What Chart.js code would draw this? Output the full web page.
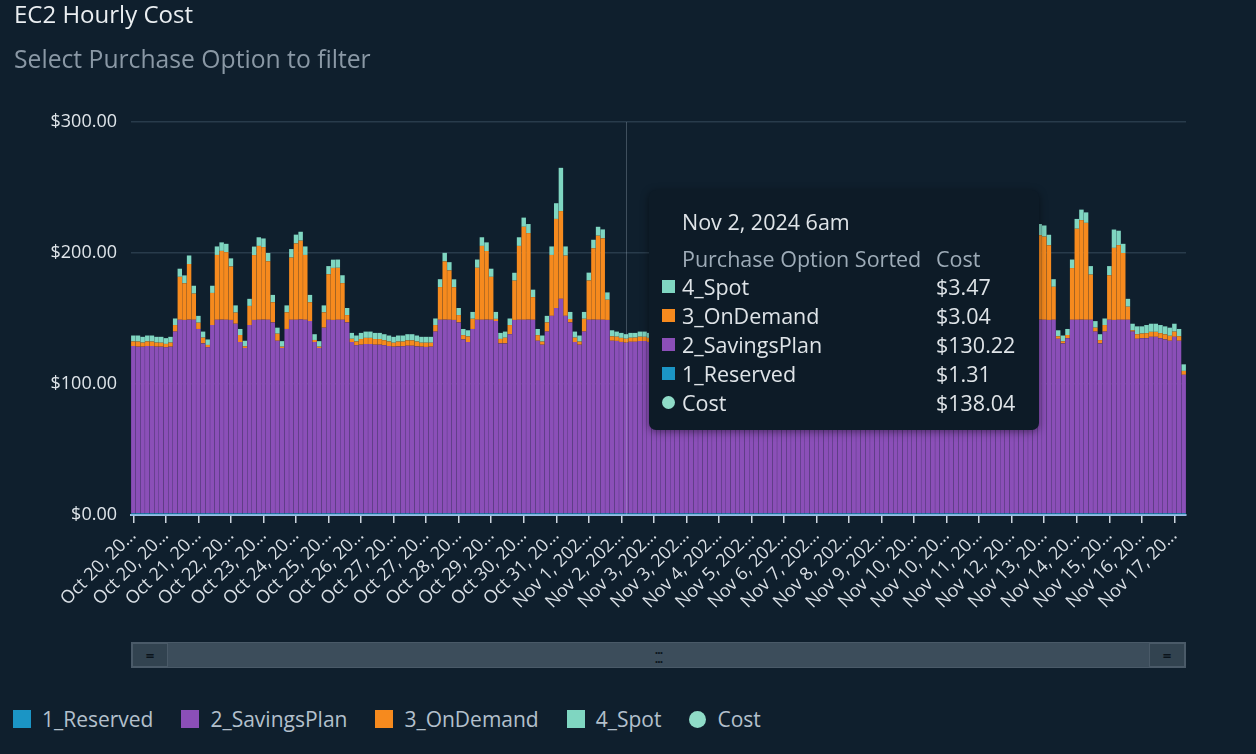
<!DOCTYPE html>
<html>
<head>
<meta charset="utf-8">
<title>EC2 Hourly Cost</title>
<script src="https://cdn.jsdelivr.net/npm/chart.js@4.4.1/dist/chart.umd.min.js"></script>
<style>
  html, body { margin: 0; padding: 0; width: 1256px; height: 754px; overflow: hidden; background: #0f1f2d; font-family: "Open Sans", sans-serif; }
  #title { position: absolute; left: 14px; top: 0; font-size: 24px; line-height: 28px; color: #eaeef1; font-weight: 500; }
  #subtitle { position: absolute; left: 14px; top: 45px; font-size: 24.7px; line-height: 28px; color: #8a98a5; }
  #chartBox { position: absolute; left: 0; top: 0; width: 1256px; height: 640px; }
  #tip { position: absolute; display: none; width: 390px; box-sizing: border-box; padding: 18px 0 13px 0; background: #0d1b27; border-radius: 7px; box-shadow: 0 2px 8px rgba(0,0,0,0.45); color: #dfe4e8; font-size: 21.5px; }
  #tip .ttl { padding-left: 33px; line-height: 28px; margin-bottom: 8px; }
  #tip .row { display: flex; align-items: center; height: 29px; }
  #tip .head { height: 28px; color: #9eacb8; }
  #tip .sw { width: 13px; height: 13px; margin-left: 13px; margin-right: 7px; flex: none; }
  #tip .dot { border-radius: 50%; }
  #tip .lab { width: 254px; flex: none; white-space: nowrap; }
  #slider { position: absolute; left: 131px; top: 642px; width: 1055px; height: 26px; box-sizing: border-box; background: #3c4d5b; border: 1px solid #4a5a68; }
  #slider .handle { position: absolute; top: 0; width: 36px; height: 24px; background: #324350; border: 1px solid #4a5a68; box-sizing: border-box; color: #0b141c; font-size: 15px; font-weight: bold; line-height: 22px; text-align: center; }
  #slider .grip { position: absolute; left: 50%; top: 2px; transform: translateX(-50%); color: #0b141c; font-size: 12px; letter-spacing: -1px; line-height: 9px; font-weight: bold; text-align: center; }
  #legend { position: absolute; left: 13px; top: 706px; display: flex; align-items: center; height: 26px; font-size: 21px; color: #b3c0cc; }
  #legend .item { display: flex; align-items: center; margin-right: 28px; }
  #legend .box { width: 18px; height: 18px; margin-right: 11px; }
  #legend .dot { width: 17px; height: 17px; border-radius: 50%; margin-right: 11px; }
</style>
</head>
<body>
<div id="chartBox"><canvas id="chartArea" width="1256" height="640"></canvas></div>
<div id="title">EC2 Hourly Cost</div>
<div id="subtitle">Select Purchase Option to filter</div>
<div id="tip"></div>
<div id="slider">
  <div class="handle" style="left:0">=</div>
  <div class="grip">...<br>...</div>
  <div class="handle" style="right:0">=</div>
</div>
<div id="legend"></div>
<script>
Chart.defaults.font.family = '"Open Sans", sans-serif';

// one entry per day, 8 buckets of 3 hours per day
const days = ['Oct 20','Oct 21','Oct 22','Oct 23','Oct 24','Oct 25','Oct 26','Oct 27','Oct 28','Oct 29',
              'Oct 30','Oct 31','Nov 1','Nov 2','Nov 3','Nov 4','Nov 5','Nov 6','Nov 7','Nov 8',
              'Nov 9','Nov 10','Nov 11','Nov 12','Nov 13','Nov 14','Nov 15','Nov 16','Nov 17'];
const hours = ['12am','3am','6am','9am','12pm','3pm','6pm','9pm'];

const seriesNames = ['1_Reserved', '2_SavingsPlan', '3_OnDemand', '4_Spot'];
const seriesColors = ['#1b95c5', '#8b4fb8', '#f68a1e', '#7fd6c1'];
const costColor = '#8fdcc8';
const yTicks = [0, 100, 200, 300];
const hoverLabel = 'Nov 2, 2024 6am';

const reserved = [
  1.31,1.31,1.31,1.31,1.31,1.31,1.31,1.31,
  1.31,1.31,1.31,1.31,1.31,1.31,1.31,1.31,
  1.31,1.31,1.31,1.31,1.31,1.31,1.31,1.31,
  1.31,1.31,1.31,1.31,1.31,1.31,1.31,1.31,
  1.31,1.31,1.31,1.31,1.31,1.31,1.31,1.31,
  1.31,1.31,1.31,1.31,1.31,1.31,1.31,1.31,
  1.31,1.31,1.31,1.31,1.31,1.31,1.31,1.31,
  1.31,1.31,1.31,1.31,1.31,1.31,1.31,1.31,
  1.31,1.31,1.31,1.31,1.31,1.31,1.31,1.31,
  1.31,1.31,1.31,1.31,1.31,1.31,1.31,1.31,
  1.31,1.31,1.31,1.31,1.31,1.31,1.31,1.31,
  1.31,1.31,1.31,1.31,1.31,1.31,1.31,1.31,
  1.31,1.31,1.31,1.31,1.31,1.31,1.31,1.31,
  1.31,1.31,1.31,1.31,1.31,1.31,1.31,1.31,
  1.31,1.31,1.31,1.31,1.31,1.31,1.31,1.31,
  1.31,1.31,1.31,1.31,1.31,1.31,1.31,1.31,
  1.31,1.31,1.31,1.31,1.31,1.31,1.31,1.31,
  1.31,1.31,1.31,1.31,1.31,1.31,1.31,1.31,
  1.31,1.31,1.31,1.31,1.31,1.31,1.31,1.31,
  1.31,1.31,1.31,1.31,1.31,1.31,1.31,1.31,
  1.31,1.31,1.31,1.31,1.31,1.31,1.31,1.31,
  1.31,1.31,1.31,1.31,1.31,1.31,1.31,1.31,
  1.31,1.31,1.31,1.31,1.31,1.31,1.31,1.31,
  1.31,1.31,1.31,1.31,1.31,1.31,1.31,1.31,
  1.31,1.31,1.31,1.31,1.31,1.31,1.31,1.31,
  1.31,1.31,1.31,1.31,1.31,1.31,1.31,1.31,
  1.31,1.31,1.31,1.31,1.31,1.31,1.31,1.31,
  1.31,1.31,1.31,1.31,1.31,1.31,1.31,1.31,
  1.31,1.31,1.31
];

const savingsPlan = [
  127.7,127.2,127.2,127.7,127.7,127.2,127.2,126.7,
  127.2,138.7,147.7,147.6,147.8,147.7,140.7,129.7,
  126.7,143.7,147.7,147.8,147.7,147.6,144.7,130.7,
  126.2,143.7,147.6,147.7,147.8,147.7,145.7,131.7,
  126.2,140.7,147.7,147.7,147.9,147.7,146.7,130.7,
  126.2,141.7,147.7,147.6,147.7,147.7,145.7,130.7,
  128.2,128.7,129.2,129.2,128.7,128.7,128.2,127.7,
  127.2,127.4,127.5,127.9,127.9,127.4,127.2,127.0,
  127.2,138.7,147.7,147.8,147.7,147.6,145.7,132.7,
  130.7,140.7,147.7,147.7,147.8,147.7,146.7,129.7,
  129.7,136.7,147.6,147.7,147.7,147.8,147.7,131.7,
  128.7,138.7,150.7,156.7,163.7,150.7,145.7,130.7,
  128.7,138.7,147.7,147.8,147.7,147.7,147.6,131.7,
  131.6,130.8,130.22,130.9,130.9,131.5,131.5,130.8,
  130.5,130.2,130.0,129.8,129.8,129.8,129.6,129.6,
  130.2,140.7,147.7,147.7,147.7,147.7,147.7,132.7,
  131.0,141.7,147.7,147.7,147.7,147.7,147.7,133.2,
  131.0,141.7,147.7,147.7,147.7,147.7,147.7,133.2,
  131.0,141.7,147.7,147.7,147.7,147.7,147.7,132.7,
  131.0,140.7,147.7,147.7,147.7,147.7,147.7,132.0,
  130.0,129.5,129.5,130.0,130.0,129.5,129.5,129.5,
  129.5,129.5,129.0,129.5,129.5,129.5,129.0,129.0,
  129.5,139.7,147.7,147.7,147.7,147.7,147.7,132.2,
  131.0,141.7,147.7,147.7,147.7,147.7,147.7,132.7,
  131.7,140.7,147.7,147.8,147.7,147.6,147.7,133.2,
  129.7,133.7,147.7,147.7,147.8,147.7,147.7,138.7,
  129.7,138.7,147.7,147.6,147.7,147.7,147.7,138.7,
  133.2,133.7,133.7,134.7,134.7,133.7,132.7,131.7,
  134.7,131.7,105.7
];

const onDemand = [
  3.5,3.9,3.1,3.5,3.4,3.1,3.0,2.6,
  3.1,5.0,32.8,28.0,42.5,20.0,4.8,4.4,
  1.8,24.5,49.5,52.5,51.6,40.8,8.5,5.4,
  1.3,14.6,49.5,56.4,55.4,44.7,15.4,5.4,
  1.0,12.7,47.5,58.3,60.2,49.5,14.4,1.6,
  1.0,11.7,34.8,39.7,39.7,28.0,5.6,2.5,
  3.0,4.3,4.7,4.7,4.3,4.3,3.9,3.5,
  3.0,3.7,3.6,4.1,4.1,3.7,3.0,3.2,
  3.0,5.0,25.0,44.5,37.7,25.0,5.6,3.3,
  4.3,7.8,39.7,56.4,52.4,32.8,1.7,3.4,
  4.3,7.0,30.0,56.4,71.0,66.1,17.3,4.3,
  2.4,7.0,46.5,68.0,67.0,46.0,2.6,3.4,
  2.4,9.8,30.0,54.5,64.2,62.2,15.4,3.4,
  3.2,3.1,3.04,3.1,3.2,3.3,3.2,3.1,
  3.0,3.0,2.9,2.9,2.9,2.9,2.8,2.8,
  2.8,5.0,35.0,50.0,47.0,35.5,6.0,3.0,
  3.2,10.0,44.5,56.5,54.5,40.0,7.8,3.5,
  3.2,12.0,49.5,62.0,58.5,43.0,10.8,3.5,
  3.2,10.0,46.5,58.3,55.5,41.0,9.0,3.0,
  3.2,8.0,35.0,44.7,42.8,30.5,4.0,2.7,
  2.9,2.8,2.8,2.9,2.9,2.8,2.8,2.8,
  2.8,2.8,2.7,2.8,2.8,2.8,2.7,2.7,
  2.8,4.0,33.0,48.0,45.0,33.5,4.0,2.8,
  3.2,9.0,42.5,54.5,52.5,39.5,7.8,3.0,
  2.5,17.8,54.5,64.5,63.5,57.0,25.2,1.9,
  1.6,2.4,39.5,69.5,76.0,74.0,34.5,3.0,
  2.5,5.0,34.0,55.0,57.0,51.0,10.0,1.0,
  3.5,3.5,3.8,3.8,3.8,3.8,3.9,3.8,
  4.0,3.5,3.0
];

const spot = [
  4.5,4.6,4.4,4.5,4.6,4.4,4.5,4.4,
  4.4,5.0,6.2,6.0,6.5,6.0,5.2,4.6,
  4.2,5.5,6.5,6.5,6.4,6.2,5.5,4.6,
  4.2,5.4,6.5,6.6,6.6,6.3,5.6,4.6,
  4.2,5.3,6.5,6.7,6.8,6.5,5.6,4.4,
  4.2,5.3,6.2,6.3,6.3,6.0,5.4,4.5,
  4.5,4.7,4.8,4.8,4.7,4.7,4.6,4.5,
  4.5,4.6,4.6,4.7,4.7,4.6,4.5,4.5,
  4.5,5.0,6.0,6.5,6.3,6.0,5.4,4.7,
  4.7,5.2,6.3,6.6,6.6,6.2,5.3,4.6,
  4.7,5.0,6.0,6.6,7.0,6.9,5.7,4.7,
  4.6,5.0,6.5,12.0,33.0,7.0,5.4,4.6,
  4.6,5.2,6.0,6.5,6.8,6.8,5.6,4.6,
  3.9,3.8,3.47,3.7,3.6,3.9,4.0,3.8,
  3.8,3.7,3.7,3.6,3.6,3.6,3.6,3.6,
  3.7,5.0,6.0,6.3,6.0,5.5,5.0,4.0,
  4.0,5.0,6.5,6.5,6.5,6.0,5.2,4.0,
  4.0,5.0,6.5,7.0,6.5,6.0,5.2,4.0,
  4.0,5.0,6.5,6.7,6.5,6.0,5.0,4.0,
  4.0,5.0,6.0,6.3,6.2,5.5,5.0,4.0,
  3.8,3.7,3.7,3.8,3.8,3.7,3.7,3.7,
  3.7,3.7,3.6,3.7,3.7,3.7,3.6,3.6,
  3.7,5.0,6.0,6.0,6.0,5.5,5.0,3.7,
  4.0,5.0,6.5,6.5,6.5,5.5,5.2,4.0,
  4.5,5.2,6.5,8.5,8.5,8.0,5.8,4.6,
  4.4,4.6,6.5,7.5,8.0,8.0,6.5,5.0,
  4.5,5.0,7.0,14.0,11.0,7.0,6.0,5.0,
  6.0,5.5,6.2,6.2,6.2,6.2,6.1,6.2,
  6.0,5.5,5.0
];

const seriesData = [reserved, savingsPlan, onDemand, spot];

const labels = [];
days.forEach(d => hours.forEach(h => labels.push(d + ', 2024 ' + h)));
labels.length = savingsPlan.length;

function money(v) {
    return '$' + v.toFixed(2);
}

// html tooltip, QuickSight style two columns
function drawTip(context) {
    const t = context.tooltip;
    const box = document.getElementById('tip');
    if (t.opacity === 0 || !t.dataPoints) { box.style.display = 'none'; return; }
    let total = 0;
    let html = '<div class="ttl">' + t.title[0] + '</div>';
    html += '<div class="row head"><span class="sw"></span><span class="lab">Purchase Option Sorted</span><span>Cost</span></div>';
    t.dataPoints.forEach(p => {
        total += p.raw;
        html += '<div class="row"><span class="sw" style="background:' + p.dataset.backgroundColor + '"></span>'
              + '<span class="lab">' + p.dataset.label + '</span><span>' + money(p.raw) + '</span></div>';
    });
    html += '<div class="row"><span class="sw dot" style="background:' + costColor + '"></span>'
          + '<span class="lab">Cost</span><span>' + money(total) + '</span></div>';
    box.innerHTML = html;
    box.style.display = 'block';
    box.style.left = (context.chart.canvas.offsetLeft + t.caretX + 23) + 'px';
    box.style.top = (context.chart.chartArea.top + 68) + 'px';
}

// vertical hover line
const crosshair = {
    id: 'crosshair',
    afterDatasetsDraw(chart) {
        const act = chart.tooltip ? chart.tooltip.getActiveElements() : [];
        if (!act.length) return;
        const x = Math.round(act[0].element.x) + 0.5;
        const c = chart.ctx;
        c.save();
        c.strokeStyle = 'rgba(190,205,220,0.28)';
        c.lineWidth = 1;
        c.beginPath();
        c.moveTo(x, chart.chartArea.top);
        c.lineTo(x, chart.chartArea.bottom);
        c.stroke();
        c.restore();
    }
};

const canvas = document.getElementById('chartArea');
const chartJs = new Chart(canvas, {
    type: 'bar',
    data: {
        labels: labels,
        datasets: seriesNames.map((name, i) => ({
            label: name,
            data: seriesData[i],
            backgroundColor: seriesColors[i],
            borderWidth: 0,
            barPercentage: 1,
            categoryPercentage: 0.96
        }))
    },
    options: {
        responsive: false,
        animation: false,
        layout: { padding: { top: 122, right: 70, left: 0, bottom: 0 } },
        plugins: {
            legend: { display: false },
            tooltip: {
                enabled: false,
                mode: 'index',
                intersect: false,
                itemSort: (a, b) => b.datasetIndex - a.datasetIndex,
                external: drawTip
            }
        },
        scales: {
            x: {
                stacked: true,
                afterFit: scale => { scale.height = 125; },
                afterBuildTicks: scale => { scale.ticks = scale.ticks.filter(t => t.value % 7 === 0); },
                border: { display: true, color: '#9cbde3', width: 2 },
                grid: { offset: false, drawOnChartArea: false, drawTicks: true, tickLength: 8, color: '#cdd6df', lineWidth: 1.5 },
                ticks: {
                    autoSkip: false,
                    minRotation: 45,
                    maxRotation: 45,
                    padding: 2,
                    color: '#d9dfe5',
                    font: { size: 18 },
                    callback: function (value) {
                        return this.getLabelForValue(value).slice(0, 10) + '…';
                    }
                }
            },
            y: {
                stacked: true,
                min: yTicks[0],
                max: yTicks[yTicks.length - 1],
                afterFit: scale => { scale.width = 131; },
                afterBuildTicks: scale => { scale.ticks = yTicks.map(v => ({ value: v })); },
                border: { display: false },
                grid: {
                    drawTicks: false,
                    lineWidth: 1.5,
                    color: ctx => ctx.tick && ctx.tick.value === 0 ? 'rgba(0,0,0,0)' : '#283b4b'
                },
                ticks: {
                    padding: 14,
                    color: '#dfe5ea',
                    font: { size: 18 },
                    callback: v => money(v)
                }
            }
        }
    },
    plugins: [crosshair]
});

// show the hover state at Nov 2, 6am
const hoverIndex = labels.indexOf(hoverLabel);
chartJs.tooltip.setActiveElements(seriesNames.map((n, i) => ({ datasetIndex: i, index: hoverIndex })), { x: 0, y: 0 });
chartJs.update();

// legend
const legend = document.getElementById('legend');
seriesNames.forEach((name, i) => {
    legend.insertAdjacentHTML('beforeend', '<div class="item"><span class="box" style="background:' + seriesColors[i] + '"></span>' + name + '</div>');
});
legend.insertAdjacentHTML('beforeend', '<div class="item"><span class="dot" style="background:' + costColor + '"></span>Cost</div>');
</script>
</body>
</html>
